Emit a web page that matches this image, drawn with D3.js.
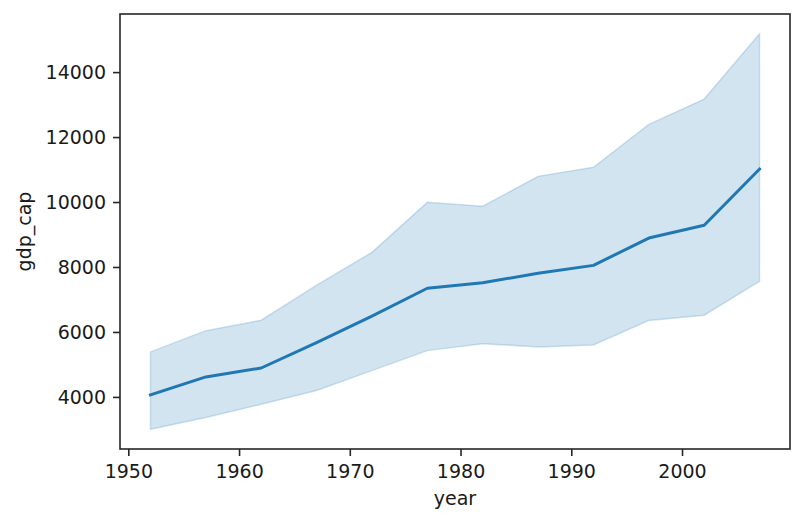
<!DOCTYPE html>
<html>
<head>
<meta charset="utf-8">
<script src="https://cdn.jsdelivr.net/npm/d3@7"></script>
<style>
  html, body { margin: 0; padding: 0; background: #fff; }
  svg { display: block; font-family: "DejaVu Sans", sans-serif; }
</style>
</head>
<body>
<svg id="chart" width="804" height="523"></svg>
<script>
const years = [1952, 1957, 1962, 1967, 1972, 1977, 1982, 1987, 1992, 1997, 2002, 2007];
const meanGdp = [4060, 4615, 4890, 5670, 6490, 7345, 7515, 7805, 8050, 8890, 9285, 11015];
const upperGdp = [5385, 6040, 6360, 7440, 8450, 9990, 9870, 10790, 11070, 12390, 13170, 15180];
const lowerGdp = [3005, 3365, 3775, 4195, 4810, 5425, 5640, 5540, 5600, 6350, 6515, 7560];
const xTicks = [1950, 1960, 1970, 1980, 1990, 2000];
const yTicks = [4000, 6000, 8000, 10000, 12000, 14000];

const data = years.map((y, i) => ({ year: y, mean: meanGdp[i], lo: lowerGdp[i], hi: upperGdp[i] }));

const svg = d3.select("#chart");
const L = 120, R = 790, T = 14, B = 449;

const xMin = d3.min(years), xMax = d3.max(years);
const xPad = (xMax - xMin) * 0.05;
const yMin = d3.min(lowerGdp), yMax = d3.max(upperGdp);
const yPad = (yMax - yMin) * 0.05;

const x = d3.scaleLinear().domain([xMin - xPad, xMax + xPad]).range([L, R]);
const y = d3.scaleLinear().domain([yMin - yPad, yMax + yPad]).range([B, T]);

const color = "#1f77b4";

// band
svg.append("path")
  .datum(data)
  .attr("d", d3.area().x(d => x(d.year)).y0(d => y(d.lo)).y1(d => y(d.hi)))
  .attr("fill", color).attr("fill-opacity", 0.2)
  .attr("stroke", color).attr("stroke-opacity", 0.2).attr("stroke-width", 1.5);

// mean line
svg.append("path")
  .datum(data)
  .attr("d", d3.line().x(d => x(d.year)).y(d => y(d.mean)))
  .attr("fill", "none").attr("stroke", color).attr("stroke-width", 3)
  .attr("stroke-linejoin", "round").attr("stroke-linecap", "square");

// axes
const fs = 19;
const gx = svg.append("g").attr("transform", `translate(0,${B})`)
  .call(d3.axisBottom(x).tickValues(xTicks).tickFormat(d3.format("d")).tickSize(7).tickPadding(8.5));
const gy = svg.append("g").attr("transform", `translate(${L},0)`)
  .call(d3.axisLeft(y).tickValues(yTicks).tickFormat(d3.format("d")).tickSize(7).tickPadding(7));
[gx, gy].forEach(g => {
  g.select(".domain").remove();
  g.selectAll(".tick line").attr("stroke", "#262626").attr("stroke-width", 1.6);
  g.selectAll(".tick text").attr("fill", "#1a1a1a").style("font-size", fs + "px").style("font-family", "DejaVu Sans");
});

// frame
svg.append("rect").attr("x", L).attr("y", T).attr("width", R - L).attr("height", B - T)
  .attr("fill", "none").attr("stroke", "#262626").attr("stroke-width", 1.6);

// labels
svg.append("text").attr("x", (L + R) / 2).attr("y", 505).attr("text-anchor", "middle")
  .style("font-size", fs + "px").attr("fill", "#1a1a1a").text("year");
svg.append("text").attr("transform", `translate(31,${(T + B) / 2}) rotate(-90)`).attr("text-anchor", "middle")
  .style("font-size", fs + "px").attr("fill", "#1a1a1a").text("gdp_cap");
</script>
</body>
</html>
